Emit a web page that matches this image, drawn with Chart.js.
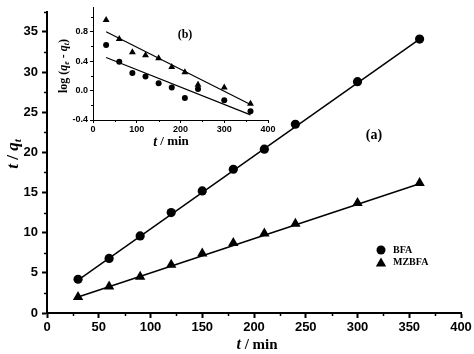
<!DOCTYPE html>
<html>
<head>
<meta charset="utf-8">
<script src="https://cdn.jsdelivr.net/npm/chart.js@4.4.0/dist/chart.umd.min.js"></script>
<style>
  html, body { margin: 0; padding: 0; background: #fff; }
  #wrap { position: relative; width: 474px; height: 354px; }
  #main { position: absolute; left: 0; top: 0; }
  #inset { position: absolute; left: 50px; top: 0; }
</style>
</head>
<body>
<div id="wrap">
  <canvas id="main" width="474" height="354"></canvas>
  <canvas id="inset" width="230" height="150"></canvas>
</div>
<script>
// main plot (a): t/qt vs t
const times = [30, 60, 90, 120, 150, 180, 210, 240, 300, 360];
const bfaTq = [4.2, 6.8, 9.6, 12.5, 15.2, 17.9, 20.4, 23.5, 28.8, 34.1];
const mzbfaTq = [2.0, 3.3, 4.5, 6.0, 7.4, 8.7, 9.9, 11.1, 13.7, 16.2];
const fitT = [30, 360];
const bfaFit = [4.1, 34.1];
const mzbfaFit = [2.0, 16.1];
const xTicks = [0, 50, 100, 150, 200, 250, 300, 350, 400];
const yTicks = [0, 5, 10, 15, 20, 25, 30, 35];

// inset (b): log(qe - qt) vs t
const bfaLog = [0.62, 0.39, 0.24, 0.19, 0.10, 0.04, -0.10, 0.02, -0.13, -0.28];
const mzbfaLog = [0.96, 0.70, 0.52, 0.48, 0.44, 0.32, 0.25, 0.08, 0.04, -0.18];
const bfaLogFit = [0.45, -0.33];
const mzbfaLogFit = [0.80, -0.19];
const insetXTicks = [0, 100, 200, 300, 400];
const insetYTicks = [-0.4, 0.0, 0.4, 0.8];

const pts = (xs, ys) => xs.map((x, i) => ({x: x, y: ys[i]}));
const serif = '"Liberation Serif", "Times New Roman", serif';
const sans = '"Liberation Sans", Arial, sans-serif';

const midTicks = (arr, extra) => {
  const out = [];
  for (let i = 0; i < arr.length - 1; i++) out.push((arr[i] + arr[i + 1]) / 2);
  if (extra !== undefined) out.push(extra);
  return out;
};

const drawMinor = (chart, xs, ys, len, width) => {
  const ctx = chart.ctx;
  const sx = chart.scales.x;
  const sy = chart.scales.y;
  const a = chart.chartArea;
  ctx.save();
  ctx.strokeStyle = '#000';
  ctx.lineWidth = width;
  ctx.beginPath();
  xs.forEach((v) => {
    const p = Math.round(sx.getPixelForValue(v)) + 0.5;
    ctx.moveTo(p, a.bottom);
    ctx.lineTo(p, a.bottom + len);
  });
  ys.forEach((v) => {
    const p = Math.round(sy.getPixelForValue(v)) + 0.5;
    ctx.moveTo(a.left, p);
    ctx.lineTo(a.left - len, p);
  });
  ctx.stroke();
  ctx.restore();
};

// draws runs of text pieces: [text, font, dy]
const drawRuns = (ctx, runs, cx, cy) => {
  let total = 0;
  runs.forEach((r) => {
    ctx.font = r[1];
    total += ctx.measureText(r[0]).width;
  });
  let x = cx - total / 2;
  runs.forEach((r) => {
    ctx.font = r[1];
    ctx.fillText(r[0], x, cy + (r[2] || 0));
    x += ctx.measureText(r[0]).width;
  });
};

const drawMarker = (ctx, style, x, y, r) => {
  ctx.beginPath();
  if (style === 'circle') {
    ctx.arc(x, y, r, 0, Math.PI * 2);
  } else {
    ctx.moveTo(x, y - r);
    ctx.lineTo(x + r * 0.866, y + r * 0.5);
    ctx.lineTo(x - r * 0.866, y + r * 0.5);
    ctx.closePath();
  }
  ctx.fill();
};

const mainDecor = {
  id: 'mainDecor',
  afterDraw(chart) {
    const ctx = chart.ctx;
    drawMinor(chart, midTicks(xTicks), midTicks(yTicks, 37.5), 3, 1.5);
    ctx.save();
    ctx.fillStyle = '#000';
    ctx.textBaseline = 'middle';
    // x title
    drawRuns(ctx, [
      ['t', 'italic bold 16px ' + serif],
      [' / min', 'bold 15px ' + serif],
    ], 257, 345);
    // y title
    ctx.save();
    ctx.translate(14, 154);
    ctx.rotate(-Math.PI / 2);
    drawRuns(ctx, [
      ['t', 'italic bold 17px ' + serif],
      [' / ', 'bold 17px ' + serif],
      ['q', 'italic bold 17px ' + serif],
      ['t', 'italic bold 11px ' + serif, 4],
    ], 0, 0);
    ctx.restore();
    // panel label
    ctx.font = 'bold 14px ' + serif;
    ctx.textAlign = 'center';
    ctx.fillText('(a)', 374, 135);
    // legend
    ctx.textAlign = 'left';
    ctx.font = 'bold 10px ' + serif;
    drawMarker(ctx, 'circle', 381, 250, 4.5);
    ctx.fillText('BFA', 393, 250);
    drawMarker(ctx, 'triangle', 381, 263.5, 6);
    ctx.fillText('MZBFA', 393, 262.5);
    ctx.restore();
  },
};

const insetDecor = {
  id: 'insetDecor',
  afterDraw(chart) {
    const ctx = chart.ctx;
    drawMinor(chart, midTicks(insetXTicks), midTicks(insetYTicks, 1.0), 2, 1);
    ctx.save();
    ctx.fillStyle = '#000';
    ctx.textBaseline = 'middle';
    drawRuns(ctx, [
      ['t', 'italic bold 14px ' + serif],
      [' / min', 'bold 13px ' + serif],
    ], 121, 142);
    ctx.save();
    ctx.translate(14, 66);
    ctx.rotate(-Math.PI / 2);
    drawRuns(ctx, [
      ['log (', 'bold 12px ' + serif],
      ['q', 'italic bold 12px ' + serif],
      ['e', 'italic bold 8px ' + serif, 3],
      [' - ', 'bold 12px ' + serif],
      ['q', 'italic bold 12px ' + serif],
      ['t', 'italic bold 8px ' + serif, 3],
      [')', 'bold 12px ' + serif],
    ], 0, 0);
    ctx.restore();
    ctx.font = 'bold 12px ' + serif;
    ctx.textAlign = 'center';
    ctx.fillText('(b)', 135, 35);
    ctx.restore();
  },
};

const axisX = (ticksArr, min, max, h, fontSize, pad, tickLen, bw) => ({
  type: 'linear',
  min: min,
  max: max,
  afterBuildTicks: (s) => {
    s.ticks = ticksArr.map((v) => ({value: v}));
  },
  afterFit: (s) => {
    s.height = h;
  },
  grid: {drawOnChartArea: false, drawTicks: true, tickLength: tickLen,
    tickColor: '#000', tickWidth: bw},
  border: {display: true, color: '#000', width: bw},
  ticks: {color: '#000', padding: pad, maxRotation: 0, autoSkip: false,
    font: {family: sans, size: fontSize, weight: 'bold'}},
});

const axisY = (ticksArr, min, max, w, fontSize, pad, tickLen, bw, fmt) => ({
  type: 'linear',
  min: min,
  max: max,
  afterBuildTicks: (s) => {
    s.ticks = ticksArr.map((v) => ({value: v}));
  },
  afterFit: (s) => {
    s.width = w;
  },
  grid: {drawOnChartArea: false, drawTicks: true, tickLength: tickLen,
    tickColor: '#000', tickWidth: bw},
  border: {display: true, color: '#000', width: bw},
  ticks: {color: '#000', padding: pad, autoSkip: false,
    font: {family: sans, size: fontSize, weight: 'bold'},
    callback: fmt},
});

const scatterSet = (data, style, r) => ({
  data: data,
  showLine: false,
  pointStyle: style,
  pointRadius: r,
  pointBackgroundColor: '#000',
  pointBorderColor: '#000',
  pointBorderWidth: 0,
});

const lineSet = (data, w) => ({
  data: data,
  showLine: true,
  pointRadius: 0,
  borderColor: '#000',
  borderWidth: w,
});

new Chart(document.getElementById('main'), {
  type: 'scatter',
  data: {
    datasets: [
      lineSet(pts(fitT, bfaFit), 1.5),
      lineSet(pts(fitT, mzbfaFit), 1.5),
      scatterSet(pts(times, bfaTq), 'circle', 4.6),
      scatterSet(pts(times, mzbfaTq), 'triangle', 6),
    ],
  },
  options: {
    responsive: false,
    animation: false,
    layout: {autoPadding: false, padding: {left: 0, top: 5, right: 13, bottom: 0}},
    plugins: {legend: {display: false}, tooltip: {enabled: false}},
    scales: {
      x: axisX(xTicks, 0, 400, 41, 13, 2, 5, 2),
      y: axisY(yTicks, 0, 37.5, 47, 13, 4, 5, 2),
    },
  },
  plugins: [mainDecor],
});

new Chart(document.getElementById('inset'), {
  type: 'scatter',
  data: {
    datasets: [
      lineSet(pts(fitT, mzbfaLogFit), 1.2),
      lineSet(pts(fitT, bfaLogFit), 1.2),
      scatterSet(pts(times, bfaLog), 'circle', 3),
      scatterSet(pts(times, mzbfaLog), 'triangle', 4),
    ],
  },
  options: {
    responsive: false,
    animation: false,
    layout: {autoPadding: false, padding: {left: 0, top: 5, right: 12, bottom: 0}},
    plugins: {legend: {display: false}, tooltip: {enabled: false}},
    scales: {
      x: axisX(insetXTicks, 0, 400, 30, 9, 1, 3, 1),
      y: axisY(insetYTicks, -0.4, 1.13, 43, 9, 2, 3, 1, (v) => v.toFixed(1)),
    },
  },
  plugins: [insetDecor],
});
</script>
</body>
</html>
